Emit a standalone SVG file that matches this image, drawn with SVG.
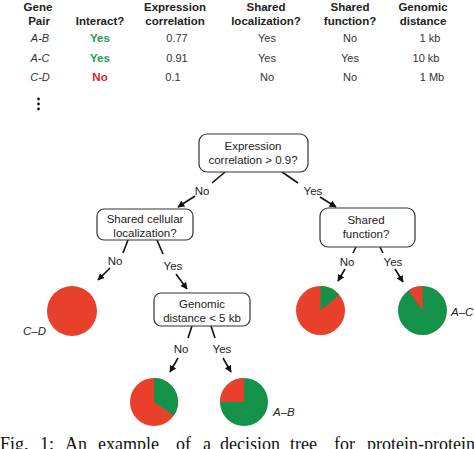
<svg xmlns="http://www.w3.org/2000/svg" width="474" height="449" viewBox="0 0 474 449">
<style>
.h{font-family:"Liberation Sans",Arial,sans-serif;font-size:11.5px;font-weight:bold;fill:#222;text-anchor:middle}
.d{font-family:"Liberation Sans",Arial,sans-serif;font-size:11px;fill:#333;text-anchor:middle}
.gi{font-style:italic}
.yes{fill:#1f9a4e;font-weight:bold;font-size:11.5px}
.no{fill:#d8262a;font-weight:bold;font-size:11.5px}
.t{font-family:"Liberation Sans",Arial,sans-serif;font-size:11.5px;fill:#222;text-anchor:middle}
.lb{font-family:"Liberation Sans",Arial,sans-serif;font-size:11.5px;fill:#222;text-anchor:middle}
.box{fill:#fff;stroke:#333;stroke-width:1.2}
.ln{stroke:#111;stroke-width:1.6;fill:none}
.red{fill:#e8402a}
.grn{fill:#14924a}
.pl{font-family:"Liberation Sans",Arial,sans-serif;font-size:11.5px;font-style:italic;fill:#222}
.cap{font-family:"Liberation Serif","Times New Roman",serif;font-size:18px;fill:#111}
</style>
<defs>
<marker id="ah" viewBox="0 0 10 10" refX="9" refY="5" markerWidth="7" markerHeight="7" markerUnits="userSpaceOnUse" orient="auto">
<path d="M0,0 L10,5 L0,10 Z" fill="#111"/>
</marker>
</defs>
<rect width="474" height="449" fill="#fff"/>

<g id="table">
<text class="h" x="38" y="11">Gene</text>
<text class="h" x="39" y="25">Pair</text>
<text class="h" x="100" y="25">Interact?</text>
<text class="h" x="175" y="11">Expression</text>
<text class="h" x="175" y="25">correlation</text>
<text class="h" x="266" y="11">Shared</text>
<text class="h" x="266" y="25">localization?</text>
<text class="h" x="350" y="11">Shared</text>
<text class="h" x="350" y="25">function?</text>
<text class="h" x="423" y="11">Genomic</text>
<text class="h" x="423" y="25">distance</text>

<text class="d gi" x="40" y="42">A-B</text>
<text class="d yes" x="100" y="42">Yes</text>
<text class="d" x="177" y="42">0.77</text>
<text class="d" x="267" y="42">Yes</text>
<text class="d" x="350" y="42">No</text>
<text class="d" x="430" y="42">1 kb</text>

<text class="d gi" x="40" y="62">A-C</text>
<text class="d yes" x="100" y="62">Yes</text>
<text class="d" x="177" y="62">0.91</text>
<text class="d" x="267" y="62">Yes</text>
<text class="d" x="350" y="62">Yes</text>
<text class="d" x="426" y="62">10 kb</text>

<text class="d gi" x="40" y="81">C-D</text>
<text class="d no" x="100" y="81">No</text>
<text class="d" x="173" y="81">0.1</text>
<text class="d" x="267" y="81">No</text>
<text class="d" x="350" y="81">No</text>
<text class="d" x="432" y="81">1 Mb</text>

<circle cx="38.5" cy="99" r="1.4" fill="#111"/>
<circle cx="38.5" cy="104" r="1.4" fill="#111"/>
<circle cx="38.5" cy="109" r="1.4" fill="#111"/>
</g>

<g id="connectors">
<line class="ln" x1="225" y1="172" x2="212" y2="183"/>
<line class="ln" x1="195" y1="196" x2="178" y2="207" marker-end="url(#ah)"/>
<line class="ln" x1="282" y1="172" x2="298" y2="183"/>
<line class="ln" x1="320" y1="197" x2="336" y2="207" marker-end="url(#ah)"/>
<line class="ln" x1="128" y1="240" x2="123" y2="253"/>
<line class="ln" x1="110" y1="268" x2="98" y2="280" marker-end="url(#ah)"/>
<line class="ln" x1="157" y1="240" x2="163" y2="254"/>
<line class="ln" x1="176" y1="274" x2="187" y2="289" marker-end="url(#ah)"/>
<line class="ln" x1="192" y1="326" x2="188" y2="338"/>
<line class="ln" x1="178" y1="358" x2="170" y2="372" marker-end="url(#ah)"/>
<line class="ln" x1="211" y1="326" x2="215" y2="338"/>
<line class="ln" x1="223" y1="358" x2="231" y2="372" marker-end="url(#ah)"/>
<line class="ln" x1="356" y1="247" x2="353" y2="253"/>
<line class="ln" x1="345" y1="269" x2="338" y2="281" marker-end="url(#ah)"/>
<line class="ln" x1="380" y1="247" x2="383" y2="253"/>
<line class="ln" x1="395" y1="269" x2="403" y2="282" marker-end="url(#ah)"/>
<text class="lb" x="202" y="195">No</text>
<text class="lb" x="313" y="195">Yes</text>
<text class="lb" x="115" y="265">No</text>
<text class="lb" x="173" y="270">Yes</text>
<text class="lb" x="181" y="353">No</text>
<text class="lb" x="222" y="353">Yes</text>
<text class="lb" x="347" y="266">No</text>
<text class="lb" x="393" y="266">Yes</text>
</g>

<g id="root">
<rect class="box" x="199" y="134" width="109" height="38" rx="8"/>
<text class="t" x="253" y="150">Expression</text>
<text class="t" x="253" y="164">correlation &gt; 0.9?</text>
</g>

<g id="loc">
<rect class="box" x="97" y="209" width="96" height="31" rx="7"/>
<text class="t" x="145" y="223">Shared cellular</text>
<text class="t" x="145" y="237">localization?</text>
</g>

<g id="func">
<rect class="box" x="320" y="208" width="95" height="39" rx="8"/>
<text class="t" x="366" y="224">Shared</text>
<text class="t" x="366" y="238">function?</text>
</g>

<g id="genomic">
<rect class="box" x="154" y="293" width="96" height="33" rx="7"/>
<text class="t" x="202" y="308">Genomic</text>
<text class="t" x="202" y="322">distance &lt; 5 kb</text>
</g>

<g id="pie-cd">
<circle class="red" cx="72" cy="311" r="25"/>
<text class="pl" x="23" y="335">C–D</text>
</g>

<g id="pie-gen-no">
<circle class="red" cx="154" cy="402" r="24"/>
<path class="grn" d="M154,402 L154,378 A24,24 0 0 1 173.7,415.8 Z"/>
</g>

<g id="pie-gen-yes">
<circle class="grn" cx="244" cy="402" r="24"/>
<path class="red" d="M244,402 L220,402 A24,24 0 0 1 244,378 Z"/>
<text class="pl" x="273" y="416">A–B</text>
</g>

<g id="pie-func-no">
<circle class="red" cx="320.5" cy="310.5" r="24.5"/>
<path class="grn" d="M320.5,310.5 L320.5,286 A24.5,24.5 0 0 1 339.3,294.8 Z"/>
</g>

<g id="pie-func-yes">
<circle class="grn" cx="422.5" cy="310.5" r="24.5"/>
<path class="red" d="M422.5,310.5 L408.45,290.4 A24.5,24.5 0 0 1 422.5,286 Z"/>
<text class="pl" x="451" y="316">A–C</text>
</g>

<g id="caption">
<text class="cap" y="450"><tspan x="0">Fig.</tspan><tspan x="40">1:</tspan><tspan x="65">An</tspan><tspan x="98">example</tspan><tspan x="176">of</tspan><tspan x="203">a</tspan><tspan x="220">decision</tspan><tspan x="290">tree</tspan><tspan x="334">for</tspan><tspan x="367">protein-protein</tspan></text>
</g>
</svg>
